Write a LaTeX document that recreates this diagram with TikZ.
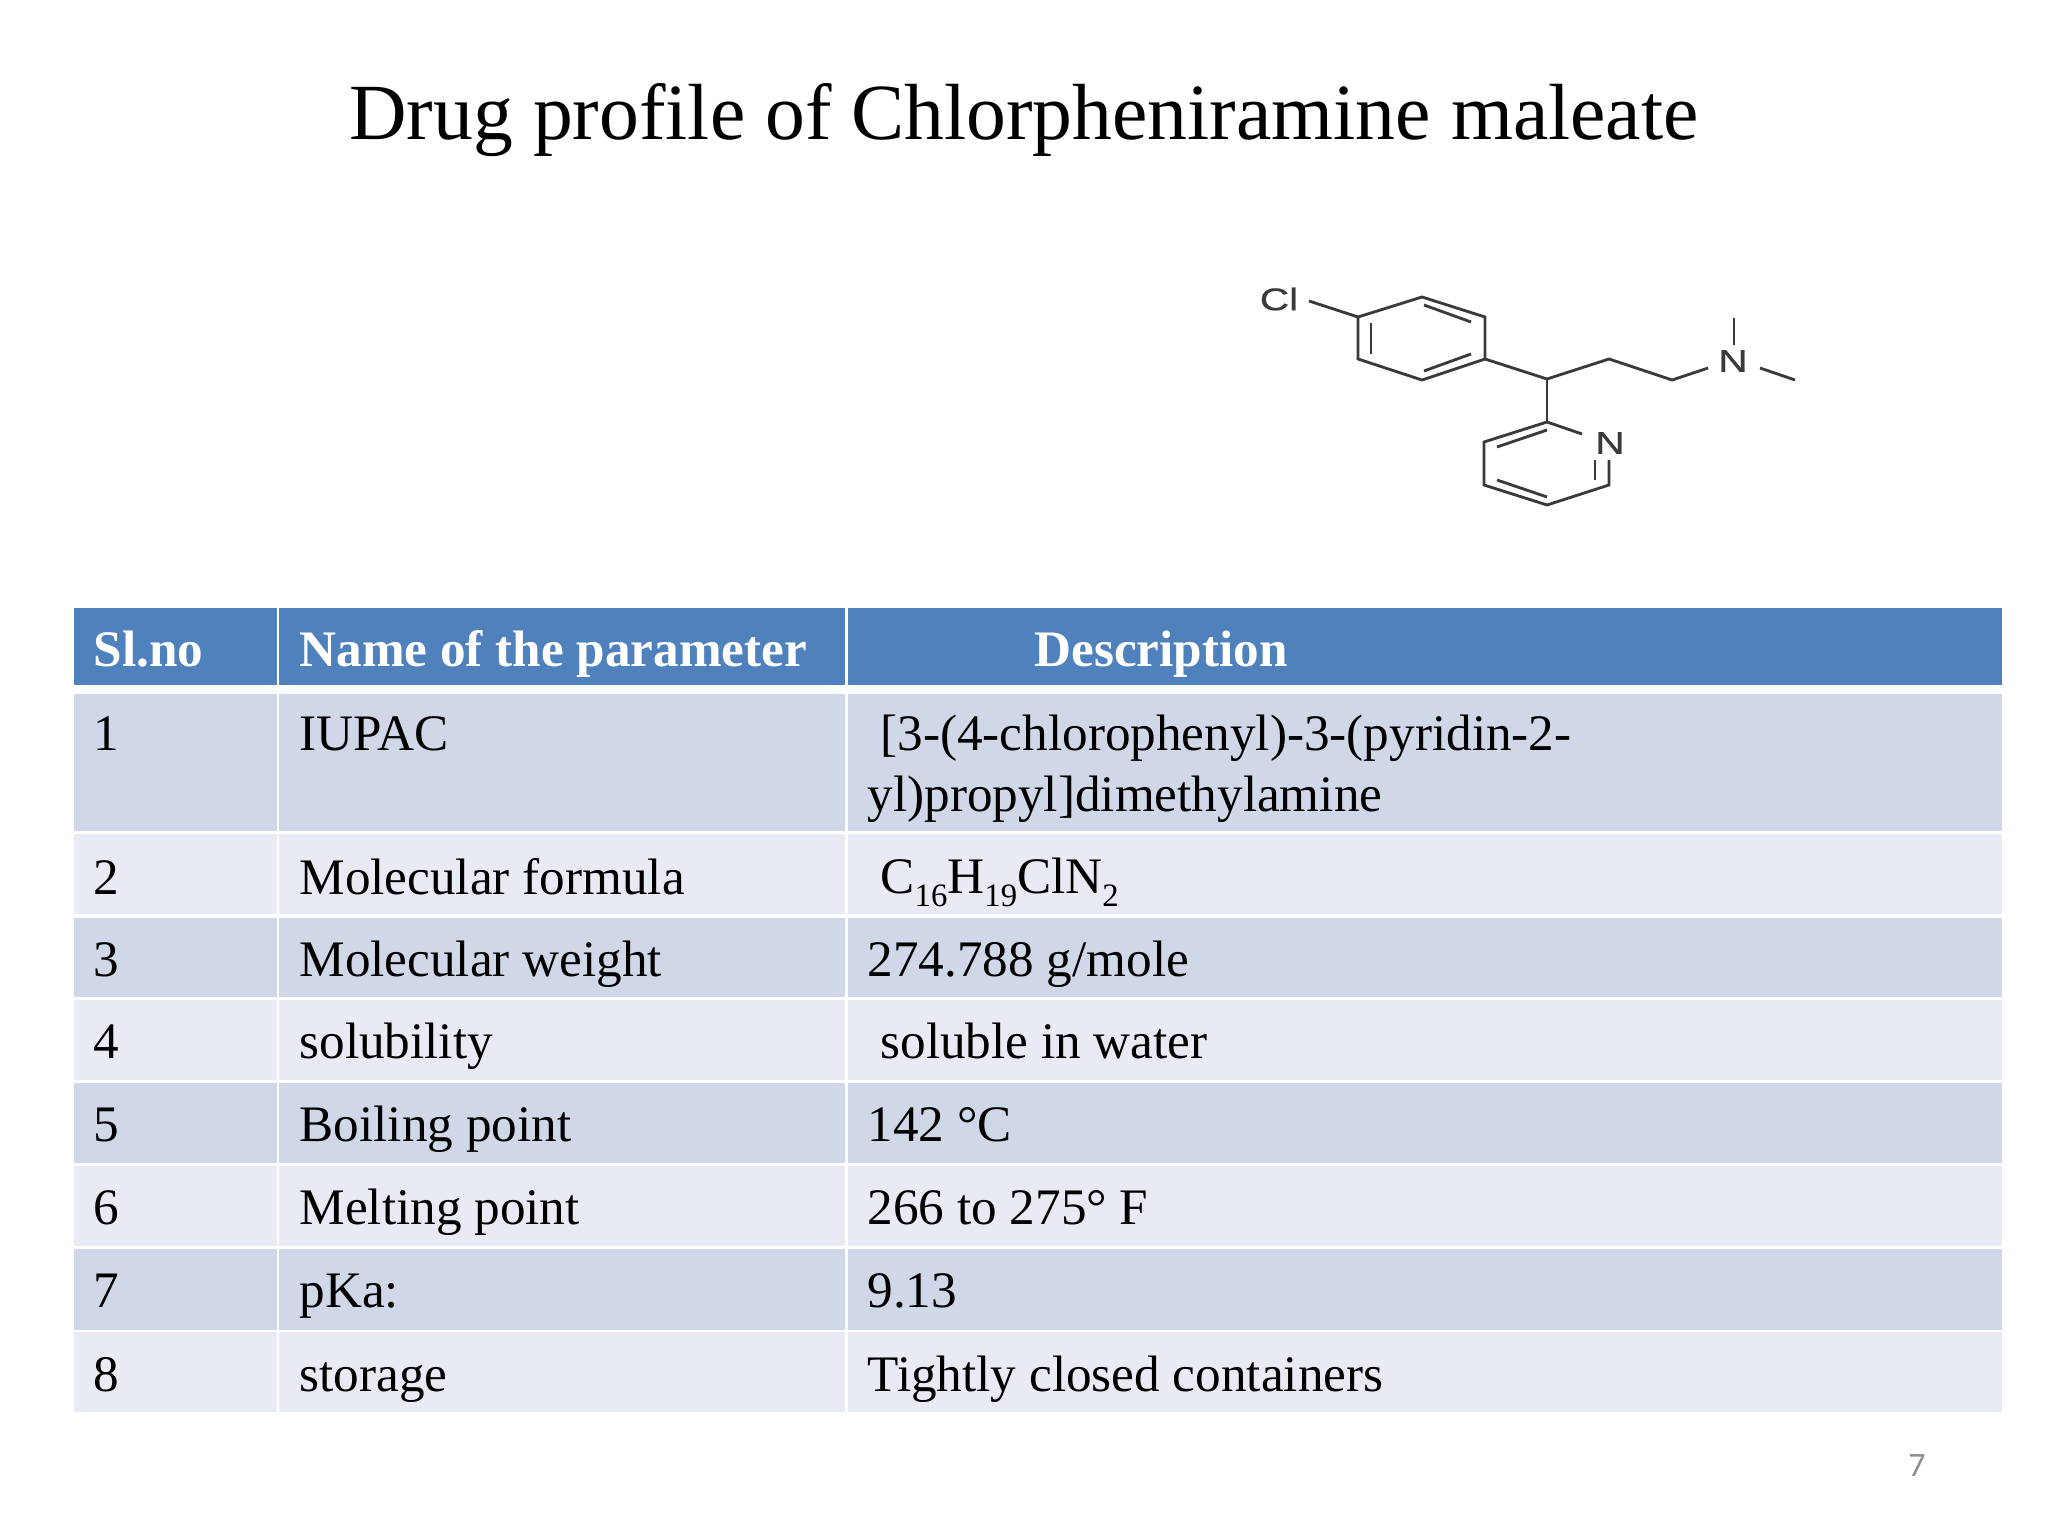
\documentclass[tikz,border=0pt]{standalone}
\usepackage{fontspec}
\setmainfont{Liberation Serif}
\newfontfamily\atomfont[FakeBold=0.6]{Liberation Sans}
\newfontfamily\pagefont{Carlito}
\definecolor{headblue}{HTML}{4F81BD}
\definecolor{rowdark}{HTML}{D0D7E8}
\definecolor{rowlight}{HTML}{E9EBF4}
\definecolor{bondgray}{HTML}{3A3A3A}
\newcommand{\formulasub}[1]{\raisebox{-0.27em}{\fontsize{11.5}{11.5}\selectfont #1}}
\tikzset{
  celltext/.style={anchor=base west, inner sep=0pt, font=\fontsize{18}{18}\selectfont, text=black},
  headtext/.style={celltext, font=\fontsize{18}{18}\selectfont\bfseries, text=white},
  bond/.style={draw=bondgray, line width=1pt},
  atomlabel/.style={inner sep=0pt, text=bondgray, font=\fontsize{11}{11}\selectfont\atomfont, xscale=1.3}
}

\begin{document}
\begin{tikzpicture}[x=0.35156pt, y=-0.35156pt]
      \useasboundingbox (0, 0) rectangle (2048, 1536);

      \node [anchor=base, inner sep=0pt, font=\fontsize{28}{28}\selectfont] (title) at (1024, 140) {Drug profile of Chlorpheniramine maleate};

      % table cells
      \foreach \top/\bot/\col in {608/685/headblue, 694/831/rowdark, 834/914/rowlight, 918/997/rowdark,
          1000/1080/rowlight, 1083/1163/rowdark, 1166/1246/rowlight, 1249/1330/rowdark, 1332/1412/rowlight} {
        \fill [\col] (74, \top) rectangle (277, \bot);
        \fill [\col] (279, \top) rectangle (845, \bot);
        \fill [\col] (848, \top) rectangle (2002, \bot);
      }

      \node [headtext] (headno) at (93, 667) {Sl.no};
      \node [headtext] (headname) at (299, 667) {Name of the parameter};
      \node [headtext] (headdesc) at (1034, 667) {Description};

      \node [celltext] (noa) at (93, 750) {1};
      \node [celltext] (namea) at (299, 750) {IUPAC};
      \node [celltext] (desca) at (880, 750) {[3-(4-chlorophenyl)-3-(pyridin-2-};
      \node [celltext] (descaa) at (867, 811) {yl)propyl]dimethylamine};
      \node [celltext] (nob) at (93, 894) {2};
      \node [celltext] (nameb) at (299, 894) {Molecular formula};
      \node [celltext] (descb) at (880, 893) {C\formulasub{16}H\formulasub{19}ClN\formulasub{2}};
      \node [celltext] (noc) at (93, 976) {3};
      \node [celltext] (namec) at (299, 976) {Molecular weight};
      \node [celltext] (descc) at (867, 976) {274.788 g/mole};
      \node [celltext] (nod) at (93, 1058) {4};
      \node [celltext] (named) at (299, 1058) {solubility};
      \node [celltext] (descd) at (880, 1058) {soluble in water};
      \node [celltext] (noe) at (93, 1141) {5};
      \node [celltext] (namee) at (299, 1141) {Boiling point};
      \node [celltext] (desce) at (867, 1141) {142 °C};
      \node [celltext] (nof) at (93, 1224) {6};
      \node [celltext] (namef) at (299, 1224) {Melting point};
      \node [celltext] (descf) at (867, 1224) {266 to 275° F};
      \node [celltext] (nog) at (93, 1307) {7};
      \node [celltext] (nameg) at (299, 1307) {pKa:};
      \node [celltext] (descg) at (867, 1307) {9.13};
      \node [celltext] (noh) at (93, 1391) {8};
      \node [celltext] (nameh) at (299, 1391) {storage};
      \node [celltext] (desch) at (867, 1391) {Tightly closed containers};

      \node [inner sep=0pt, text=gray!90, font=\fontsize{12}{12}\selectfont\pagefont] (pageno) at (1917, 1466) {7};

      % molecule
      \node [atomlabel] (cl) at (1279, 299) {Cl};
      \node [atomlabel] (na) at (1733, 361) {N};
      \node [atomlabel] (nb) at (1610, 443) {N};

      \coordinate (pa) at (1358, 317);
      \coordinate (pb) at (1422, 297);
      \coordinate (pc) at (1485, 317);
      \coordinate (pd) at (1485, 359);
      \coordinate (pe) at (1422, 380);
      \coordinate (pf) at (1358, 359);
      \coordinate (ca) at (1547, 379);
      \coordinate (cb) at (1609, 359);
      \coordinate (cc) at (1672, 380);
      \coordinate (ra) at (1547, 422);
      \coordinate (rb) at (1484, 442);
      \coordinate (rc) at (1484, 485);
      \coordinate (rd) at (1547, 505);
      \coordinate (re) at (1609, 485);

      \draw [bond] (pa) -- (pb) -- (pc) -- (pd) -- (pe) -- (pf) -- cycle;
      \draw [bond] (1371, 323) -- (1371, 354);
      \draw [bond] (1424, 305) -- (1471, 322);
      \draw [bond] (1424, 371) -- (1471, 354);
      \draw [bond] (1309, 301) -- (pa);
      \draw [bond] (pd) -- (ca) -- (cb) -- (cc) -- (1708, 368);
      \draw [bond] (1734, 318) -- (1734, 345);
      \draw [bond] (1760, 368) -- (1795, 380);
      \draw [bond] (ca) -- (ra);
      \draw [bond] (1582, 434) -- (ra) -- (rb) -- (rc) -- (rd) -- (re) -- (1609, 460);
      \draw [bond] (1497, 447) -- (1547, 430);
      \draw [bond] (1497, 480) -- (1547, 497);
      \draw [bond] (1595, 460) -- (1595, 480);
    \end{tikzpicture}
\end{document}
